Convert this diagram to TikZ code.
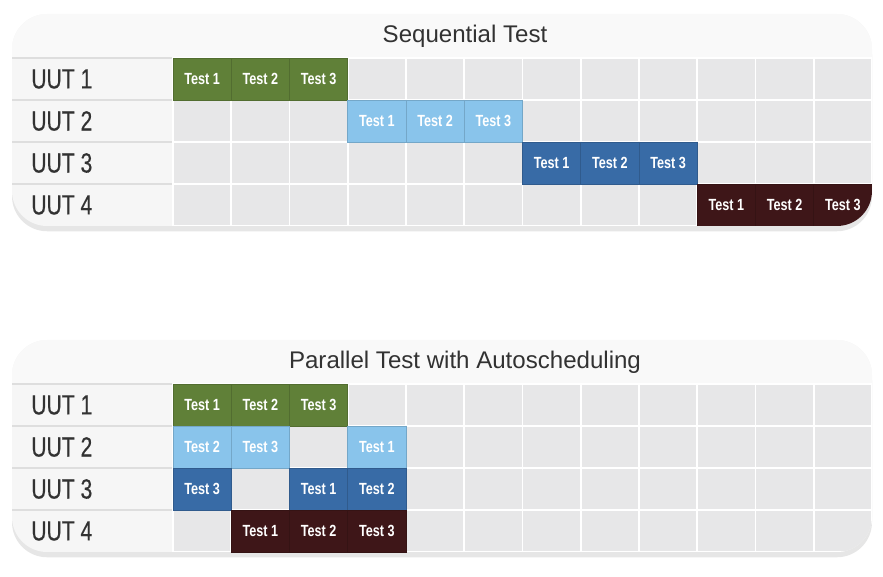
\documentclass[tikz,border=0pt]{standalone}
\usepackage{fontspec}
\setmainfont{Liberation Sans}
\newfontfamily\uutfont{Liberation Sans}[FakeStretch=0.76, FakeBold=0.4]
\newfontfamily\testfont{Liberation Sans}[FakeStretch=0.78]
\usetikzlibrary{shadows}

\definecolor{uutgreen}{RGB}{96,128,56}
\definecolor{uutlight}{RGB}{137,196,235}
\definecolor{uutblue}{RGB}{56,107,166}
\definecolor{uutmaroon}{RGB}{62,22,24}
\definecolor{cellgray}{RGB}{231,231,232}
\definecolor{panelgray}{RGB}{246,246,246}
\definecolor{bandgray}{RGB}{249,249,249}
\definecolor{linegray}{RGB}{222,222,222}
\definecolor{textgray}{RGB}{50,50,50}

\tikzset{
  panel/.style={fill=panelgray, rounded corners=20,
    drop shadow={shadow xshift=0pt, shadow yshift=-3pt, opacity=0.2}},
  sepline/.style={draw=linegray, line width=0.8pt},
  emptycell/.style={rectangle, fill=cellgray, draw=white, line width=1.1pt,
    minimum width=1.165cm, minimum height=0.84cm, inner sep=0pt},
  testcell/.style={emptycell, line width=0.5pt, text=white,
    font=\testfont\bfseries\fontsize{9.2}{10}\selectfont},
  uutlabel/.style={anchor=west, inner sep=0pt, text=textgray,
    font=\uutfont\fontsize{15.8}{16}\selectfont},
  titletext/.style={text=textgray, font=\fontsize{13.7}{14}\selectfont}
}

\begin{document}
\begin{tikzpicture}[x=0.02cm,y=-0.02cm]
  \useasboundingbox (0,0) rectangle (883,577);

  % the two panels: background, title band, labels and empty grid
  \foreach \ty/\pn/\ttl in {14/s/Sequential Test, 340/p/Parallel Test with Autoscheduling}{
    \fill[panel] (12,\ty) rectangle (872,{\ty+212});
    \begin{scope}
      \clip[rounded corners=20] (12,\ty) rectangle (872,{\ty+212});
      \fill[bandgray] (12,\ty) rectangle (872,{\ty+44});
      \node[titletext] (\pn-title) at (465,{\ty+22}) {\ttl};
      \foreach \r in {1,...,4}{
        \draw[sepline] (12,{\ty+44+(\r-1)*42}) -- (172,{\ty+44+(\r-1)*42});
        \node[uutlabel] (\pn-uut\r) at (31,{\ty+44+(\r-0.5)*42}) {UUT \r};
        \foreach \c in {1,...,12}
          \node[emptycell] (\pn-\r-\c) at ({173+(\c-0.5)*58.25},{\ty+44+(\r-0.5)*42}) {};
      }
    \end{scope}
  }

  % sequential test
  \begin{scope}
    \clip[rounded corners=20] (12,14) rectangle (872,226);
    \foreach \r/\c/\t/\clr in {1/1/1/uutgreen, 1/2/2/uutgreen, 1/3/3/uutgreen,
        2/4/1/uutlight, 2/5/2/uutlight, 2/6/3/uutlight,
        3/7/1/uutblue, 3/8/2/uutblue, 3/9/3/uutblue,
        4/10/1/uutmaroon, 4/11/2/uutmaroon, 4/12/3/uutmaroon}
      \node[testcell, fill=\clr, draw=\clr!85!black] (s-t\r-\c)
        at ({173+(\c-0.5)*58.25},{58+(\r-0.5)*42}) {Test \t};
  \end{scope}

  % parallel test
  \foreach \r/\c/\t/\clr in {1/1/1/uutgreen, 1/2/2/uutgreen, 1/3/3/uutgreen,
      2/1/2/uutlight, 2/2/3/uutlight, 2/4/1/uutlight,
      3/1/3/uutblue, 3/3/1/uutblue, 3/4/2/uutblue,
      4/2/1/uutmaroon, 4/3/2/uutmaroon, 4/4/3/uutmaroon}
    \node[testcell, fill=\clr, draw=\clr!85!black] (p-t\r-\c)
      at ({173+(\c-0.5)*58.25},{384+(\r-0.5)*42}) {Test \t};
\end{tikzpicture}
\end{document}
